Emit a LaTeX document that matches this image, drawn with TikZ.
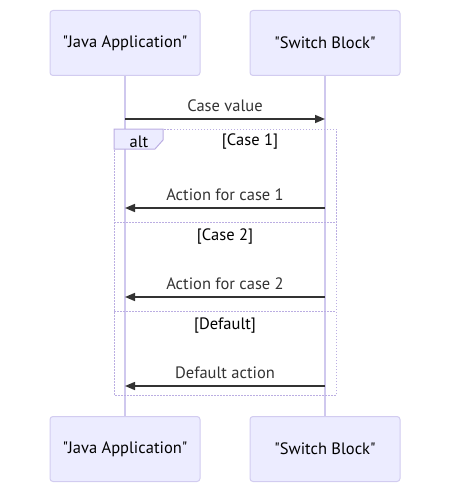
\documentclass[tikz,border=0pt]{standalone}
\usepackage{fontspec}
\setmainfont{PT Sans}[Ligatures=TeXOff]
\usetikzlibrary{arrows.meta}
\definecolor{actfill}{HTML}{ECECFF}
\definecolor{actline}{HTML}{D2CCF0}
\definecolor{lifeln}{HTML}{CFC8EE}
\definecolor{loopln}{HTML}{BBAEE2}
\definecolor{txt}{HTML}{333333}
\begin{document}
\begin{tikzpicture}[x=1pt,y=-1pt,
  actor/.style={draw=actline,fill=actfill,rounded corners=3pt,minimum width=150pt,minimum height=65pt,inner sep=0pt,font=\fontsize{16.5}{18}\selectfont,text=black,line width=1pt},
  lifeline/.style={draw=lifeln,line width=1.3pt},
  msg/.style={draw=txt,line width=1.5pt,-{Triangle[length=10pt,width=8pt]}},
  lbl/.style={font=\fontsize{16.5}{18}\selectfont,text=txt,inner sep=0pt},
  cond/.style={font=\fontsize{16.5}{18}\selectfont,text=black,inner sep=0pt},
  loopbox/.style={draw=loopln,line width=1pt,dash pattern=on 1.5pt off 1.5pt}]
\useasboundingbox (0,0) rectangle (450,492);
% actors
\node[actor] (jtop) at (125,43) {"Java Application"};
\node[actor] (stop) at (325,43) {"Switch Block"};
\node[actor] (jbot) at (125,449) {"Java Application"};
\node[actor] (sbot) at (325,449) {"Switch Block"};
\draw[lifeline] (jtop.south) -- (jbot.north);
\draw[lifeline] (stop.south) -- (sbot.north);
% message coordinates
\coordinate (j1) at (125,119); \coordinate (s1) at (325,119);
\coordinate (j2) at (125,208); \coordinate (s2) at (325,208);
\coordinate (j3) at (125,297); \coordinate (s3) at (325,297);
\coordinate (j4) at (125,386); \coordinate (s4) at (325,386);
% alt box
\coordinate (altTL) at (114,129); \coordinate (altBR) at (336,395);
\draw[loopbox] (altTL) rectangle (altBR);
\coordinate (d1a) at (114,222); \coordinate (d1b) at (336,222);
\coordinate (d2a) at (114,311); \coordinate (d2b) at (336,311);
\draw[loopbox] (d1a) -- (d1b);
\draw[loopbox] (d2a) -- (d2b);
\draw[draw=loopln,fill=actfill,line width=1pt] (114,129) -- (163,129) -- (163,140) -- (155,149) -- (114,149) -- cycle;
\node[cond] (alt) at (139,141.5) {alt};
\node[cond] (c1) at (250,141.5) {[Case 1]};
\node[cond] (c2) at (225,236.5) {[Case 2]};
\node[cond] (c3) at (225,325.5) {[Default]};
% messages
\draw[msg] (j1) -- (s1);
\node[lbl] (m1) at (225,105.5) {Case value};
\draw[msg] (s2) -- (j2);
\node[lbl] (m2) at (225,194.5) {Action for case 1};
\draw[msg] (s3) -- (j3);
\node[lbl] (m3) at (225,283.5) {Action for case 2};
\draw[msg] (s4) -- (j4);
\node[lbl] (m4) at (225,372.5) {Default action};
\end{tikzpicture}
\end{document}
